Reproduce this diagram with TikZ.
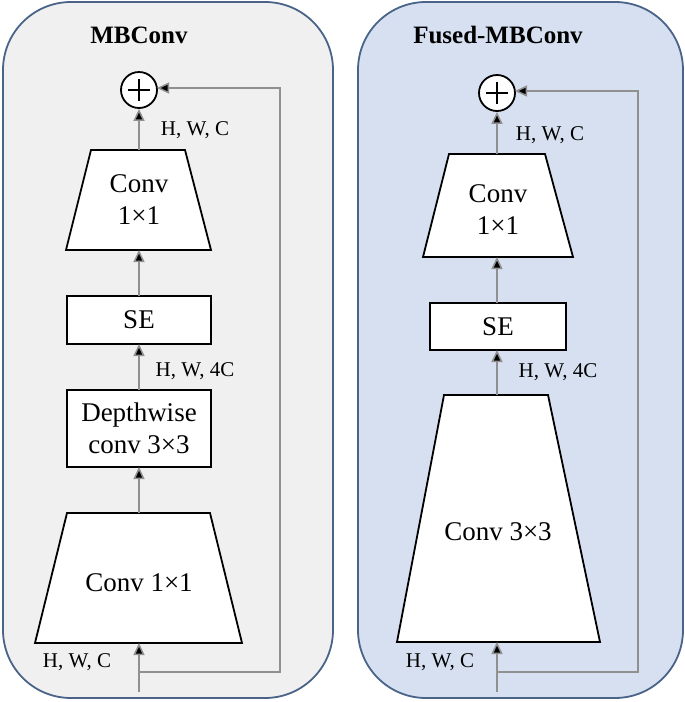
\documentclass[tikz,border=0pt]{standalone}
\usepackage{fontspec}
\setmainfont{Liberation Serif}
\usetikzlibrary{arrows.meta}
\definecolor{edge}{HTML}{4A6388}
\definecolor{lgray}{HTML}{F0F0F0}
\definecolor{lblue}{HTML}{D6E0F0}
\definecolor{lnk}{HTML}{909090}
\begin{document}
\begin{tikzpicture}[x=1pt,y=-1pt,
  panel/.style={draw=edge,line width=1.8pt,rounded corners=68pt},
  blk/.style={draw=black,fill=white,line width=1.8pt},
  txt/.style={font=\rmfamily\fontsize{27}{32}\selectfont,align=center},
  lab/.style={font=\rmfamily\fontsize{21}{24}\selectfont},
  ttl/.style={font=\rmfamily\bfseries\fontsize{25}{30}\selectfont},
  arr/.style={draw=lnk,line width=1.5pt,-{Triangle[length=12pt,width=11pt,fill=black]}},
  ln/.style={draw=lnk,line width=1.5pt}]
\useasboundingbox (0,0) rectangle (685,702);
\draw[panel,fill=lgray] (3,2) rectangle (333,698);
\draw[panel,fill=lblue] (358,2) rectangle (683,698);
% ---- MBConv
\node[ttl] (t1) at (139,35) {MBConv};
\node[blk,circle,minimum size=36,inner sep=0pt] (p1) at (139,90) {};
\draw[line width=2pt] (128,90)--(150,90) (139,79)--(139,101);
\draw[blk] (91,150)--(185,150)--(211,250)--(66,250)--cycle;
\node[txt] (c1) at (139,200) {Conv\\1×1};
\coordinate (c1t) at (139,150); \coordinate (c1b) at (139,250);
\draw[blk] (67,296) rectangle (211,344);
\node[txt] (se1) at (139,320) {SE};
\draw[blk] (67,390) rectangle (211,467);
\node[txt] (dw1) at (139,428.5) {Depthwise\\conv 3×3};
\coordinate (se1t) at (139,296); \coordinate (se1b) at (139,344);
\coordinate (dw1t) at (139,390); \coordinate (dw1b) at (139,467);
\draw[blk] (67,513)--(210,513)--(242,643)--(35,643)--cycle;
\node[txt] (c2) at (139,583) {Conv 1×1};
\coordinate (c2t) at (139,513); \coordinate (c2b) at (139,643);
\coordinate (in1) at (139,692); \coordinate (s1) at (139,672);
\coordinate (r1a) at (280,672); \coordinate (r1b) at (280,88);
\coordinate (p1r) at (157,88);
\draw[arr] (c1t) -- (p1);
\draw[arr] (se1t) -- (c1b);
\draw[arr] (dw1t) -- (se1b);
\draw[arr] (c2t) -- (dw1b);
\draw[arr] (in1) -- (c2b);
\draw[arr] (s1) -- (r1a) -- (r1b) -- (p1r);
\node[lab] (l1) at (195,130) {H, W, C};
\node[lab] (l2) at (195,371) {H, W, 4C};
\node[lab] (l3) at (77,662) {H, W, C};
% ---- Fused-MBConv
\node[ttl] (t2) at (498,35) {Fused-MBConv};
\node[blk,circle,minimum size=36,inner sep=0pt] (p2) at (497,93) {};
\draw[line width=2pt] (486,93)--(508,93) (497,82)--(497,104);
\draw[blk] (449,154)--(545,154)--(573,257)--(423,257)--cycle;
\node[txt] (c3) at (498,210) {Conv\\1×1};
\coordinate (c3t) at (497,154); \coordinate (c3b) at (497,257);
\draw[blk] (430,303) rectangle (566,350);
\node[txt] (se2) at (498,326.5) {SE};
\coordinate (se2t) at (497,303); \coordinate (se2b) at (497,350);
\draw[blk] (444,395)--(548,395)--(600,642)--(397,642)--cycle;
\node[txt] (c4) at (498,532) {Conv 3×3};
\coordinate (c4t) at (497,395); \coordinate (c4b) at (497,642);
\coordinate (in2) at (497,692); \coordinate (s2) at (497,672);
\coordinate (r2a) at (638,672); \coordinate (r2b) at (638,91);
\coordinate (p2r) at (515,91);
\draw[arr] (c3t) -- (p2);
\draw[arr] (se2t) -- (c3b);
\draw[arr] (c4t) -- (se2b);
\draw[arr] (in2) -- (c4b);
\draw[arr] (s2) -- (r2a) -- (r2b) -- (p2r);
\node[lab] (l4) at (550,135) {H, W, C};
\node[lab] (l5) at (558,372) {H, W, 4C};
\node[lab] (l6) at (440,662) {H, W, C};
\end{tikzpicture}
\end{document}
